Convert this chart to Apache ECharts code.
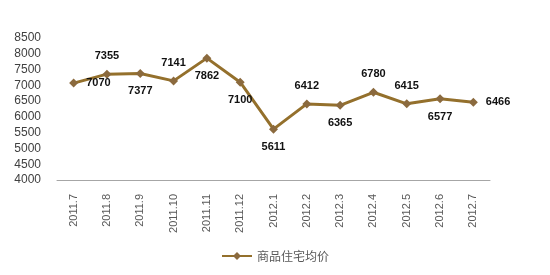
<!DOCTYPE html>
<html><head><meta charset="utf-8">
<script src="https://cdn.jsdelivr.net/npm/echarts@6/dist/echarts.min.js"></script>
<style>html,body{margin:0;padding:0;background:#fff}#c{width:550px;height:275px}</style>
</head><body><div id="c"></div>
<script>
const categories = ['2011.7','2011.8','2011.9','2011.10','2011.11','2011.12','2012.1','2012.2','2012.3','2012.4','2012.5','2012.6','2012.7'];
const prices = [7070,7355,7377,7141,7862,7100,5611,6412,6365,6780,6415,6577,6466];
const seriesName = '商品住宅均价';
const labelPlacement = ['right','top','bottom','top','bottom','bottom','bottom','top','bottom','top','top','bottom','right'];

const chart = echarts.init(document.getElementById('c'));
chart.setOption({
  animation:false,
  grid:{left:57,right:60,top:38,bottom:95},
  legend:{bottom:8,left:'center',itemWidth:30,itemHeight:10,
    textStyle:{color:'#595959',fontSize:12,fontFamily:'Noto Sans CJK SC'},data:[seriesName]},
  xAxis:{type:'category',data:categories,boundaryGap:true,
    axisLine:{lineStyle:{color:'#a6a6a6'}},axisTick:{show:false},
    axisLabel:{rotate:90,color:'#595959',fontSize:11,margin:14,fontFamily:'Liberation Sans'}},
  yAxis:{type:'value',min:4000,max:8500,interval:500,
    axisLine:{show:false},axisTick:{show:false},splitLine:{show:false},
    axisLabel:{color:'#404040',fontSize:12,margin:16,fontFamily:'Liberation Sans',formatter:v=>String(v)}},
  series:[{name:seriesName,type:'line',symbol:'diamond',symbolSize:9,
    lineStyle:{color:'#94702c',width:3},itemStyle:{color:'#8b6a3e'},
    data:prices.map((v,i)=>({value:v,label:{position:labelPlacement[i]}})),
    label:{show:true,color:'#111',fontSize:11,fontWeight:'bold',distance:8,fontFamily:'Liberation Sans'}}]
});
</script></body></html>
